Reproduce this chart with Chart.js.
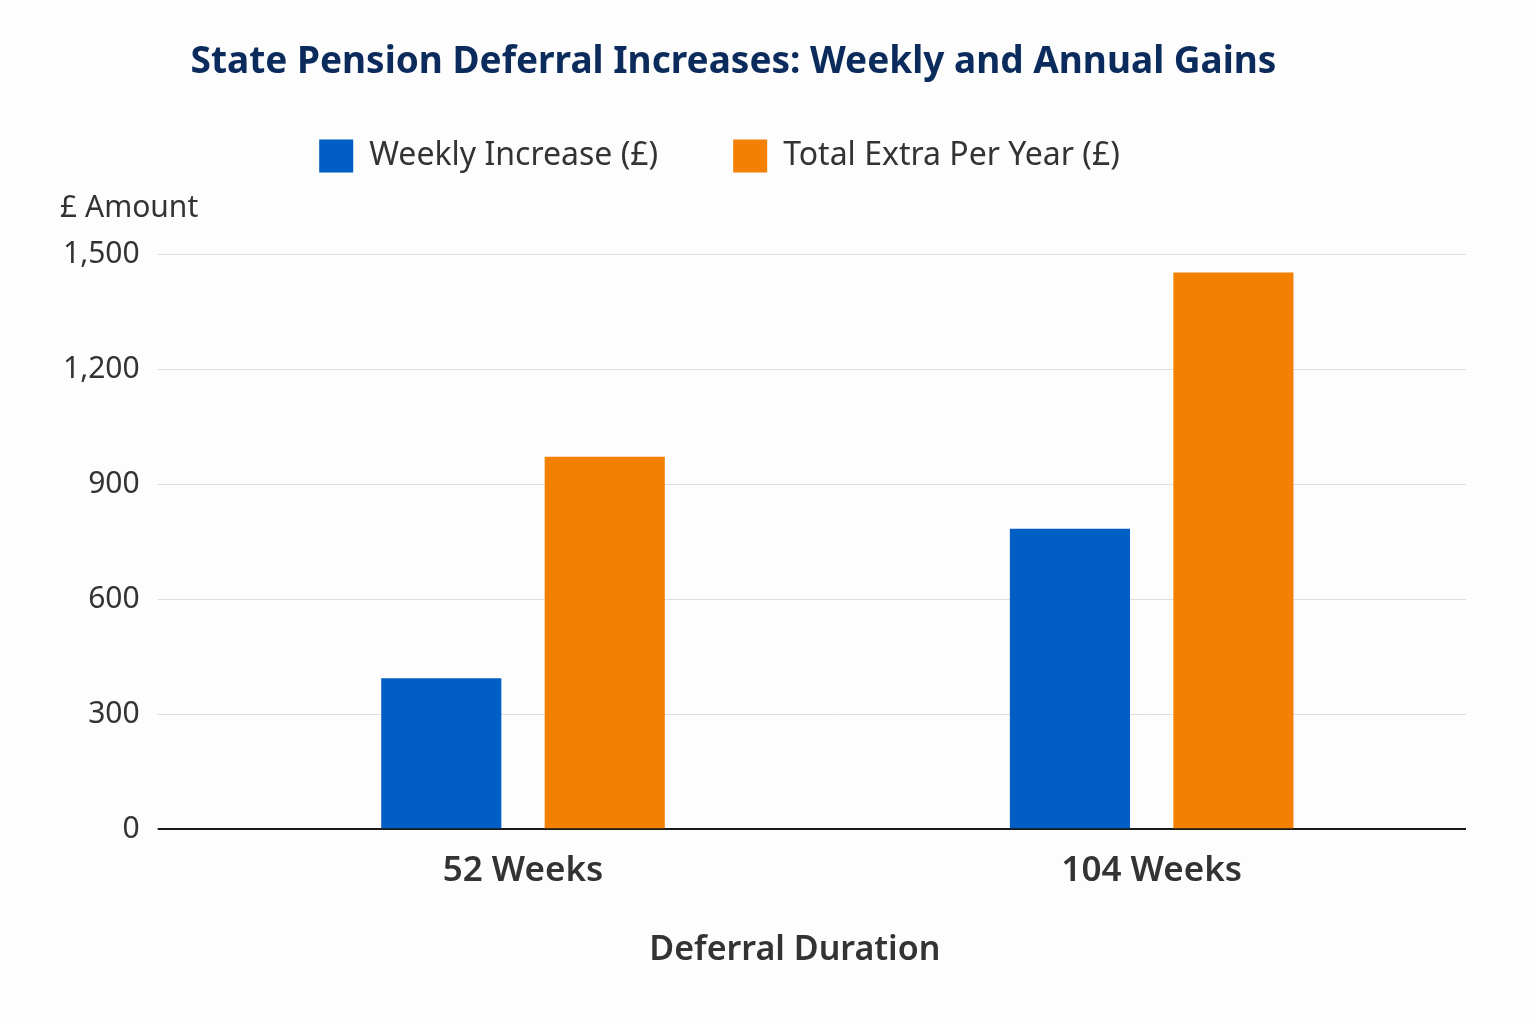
<!DOCTYPE html>
<html>
<head>
<meta charset="utf-8">
<script src="https://cdn.jsdelivr.net/npm/chart.js@4/dist/chart.umd.min.js"></script>
<style>
  html, body { margin: 0; padding: 0; background: #fdfdfd; }
  #wrap { width: 1536px; height: 1024px; }
</style>
</head>
<body>
<div id="wrap"><canvas id="pensionChart" width="1536" height="1024"></canvas></div>
<script>
const categories = ["52 Weeks", "104 Weeks"];
const weeklyIncrease = [394, 784];
const totalExtraPerYear = [972, 1453];
const yTicks = [0, 300, 600, 900, 1200, 1500];

const textColor = '#333333';
const fontFamily = "'Noto Sans', 'Open Sans', sans-serif";

// draws the "£ Amount" label above the y axis
const yLabelPlugin = {
    id: 'yLabel',
    afterDraw(chart) {
        const ctx = chart.ctx;
        ctx.save();
        ctx.font = "30px " + fontFamily;
        ctx.fillStyle = textColor;
        ctx.textAlign = 'left';
        ctx.textBaseline = 'middle';
        ctx.fillText('£ Amount', 60, 208);
        ctx.restore();
    }
};

// extra room under the legend for the "£ Amount" label
const legendSpacer = {
    id: 'legendSpacer',
    beforeInit(chart) {
        const fit = chart.legend.fit;
        chart.legend.fit = function () {
            fit.call(this);
            this.height += 72;
        };
    }
};

// nudge title, legend and x title left so they sit where the original has them
const titleShift = {
    id: 'titleShift',
    afterLayout(chart) {
        chart.titleBlock.left -= 22;
        chart.titleBlock.right -= 22;
        chart.legend.left -= 36;
        chart.legend.right -= 36;
        chart.scales.x.left -= 85;
    }
};

Chart.defaults.font.family = fontFamily;
Chart.defaults.color = textColor;

new Chart(document.getElementById('pensionChart'), {
    type: 'bar',
    data: {
        labels: categories,
        datasets: [
            {
                label: 'Weekly Increase (£)',
                data: weeklyIncrease,
                backgroundColor: '#005ec4'
            },
            {
                label: 'Total Extra Per Year (£)',
                data: totalExtraPerYear,
                backgroundColor: '#f38000'
            }
        ]
    },
    options: {
        responsive: false,
        animation: false,
        categoryPercentage: 0.52,
        barPercentage: 0.735,
        layout: {
            padding: { left: 45, right: 70, top: 0, bottom: 53 }
        },
        plugins: {
            title: {
                display: true,
                text: 'State Pension Deferral Increases: Weekly and Annual Gains',
                color: '#0a2b5c',
                font: { size: 37, weight: 'bold' },
                padding: { top: 40, bottom: -20 }
            },
            legend: {
                position: 'top',
                labels: {
                    boxWidth: 34,
                    boxHeight: 33,
                    padding: 75,
                    color: textColor,
                    font: { size: 32 }
                }
            },
            tooltip: { enabled: false }
        },
        scales: {
            x: {
                grid: { display: false },
                border: { display: false },
                ticks: {
                    color: textColor,
                    padding: 13,
                    font: { size: 35, weight: '600' }
                },
                title: {
                    display: true,
                    text: 'Deferral Duration',
                    color: textColor,
                    font: { size: 34, weight: '600' },
                    padding: { top: 25, bottom: 0 }
                }
            },
            y: {
                min: 0,
                max: 1500,
                afterBuildTicks: axis => {
                    axis.ticks = yTicks.map(v => ({ value: v }));
                },
                border: { display: false },
                grid: {
                    drawTicks: true,
                    tickLength: 51,
                    color: ctx => ctx.tick && ctx.tick.value === 0 ? '#1a1a1a' : '#dedede',
                    lineWidth: ctx => ctx.tick && ctx.tick.value === 0 ? 2 : 1
                },
                ticks: {
                    color: textColor,
                    padding: 18,
                    font: { size: 30 },
                    callback: v => v.toLocaleString('en-GB')
                }
            }
        }
    },
    plugins: [yLabelPlugin, legendSpacer, titleShift]
});
</script>
</body>
</html>
